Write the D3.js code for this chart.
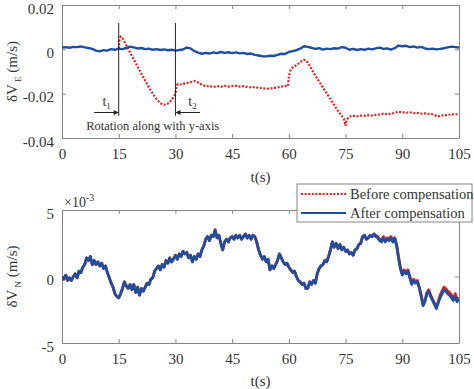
<!DOCTYPE html>
<html lang="en">
<head>
<meta charset="UTF-8" />
<title>velocity error</title>
<script src="https://cdn.jsdelivr.net/npm/d3@7"></script>
<style>
  body { margin: 0; background: #fff; }
  svg text { font-family: 'Liberation Serif', 'Times New Roman', serif; fill: #333; }
</style>
</head>
<body>
<div id="chart"></div>
<script>
// ---- data ----
const xTicks = [0, 15, 30, 45, 60, 75, 90, 105]
const topYTicks = [-0.04, -0.02, 0, 0.02]
const bottomYTicks = [-5, 0, 5]
const seriesNames = ['Before compensation', 'After compensation']

// top panel, after compensation (m/s), one value per second from t = 0
const topAfter = [
  0.0008, 0.0010, 0.0007, 0.0011, 0.0010, 0.0013, 0.0009, 0.0006, 0.0002, -0.0006,
  -0.0009, -0.0004, -0.0006, 0.0001, -0.0002, 0.0003, 0.0001, 0.0006, 0.0012, 0.0009,
  0.0004, 0.0006, 0.0001, 0.0003, -0.0002, 0.0001, -0.0003, 0.0000, -0.0004, -0.0002,
  -0.0006, -0.0003, -0.0001, 0.0008, 0.0004, -0.0008, -0.0015, -0.0020, -0.0016, -0.0019,
  -0.0014, -0.0017, -0.0012, -0.0016, -0.0013, -0.0017, -0.0014, -0.0018, -0.0016, -0.0021,
  -0.0019, -0.0025, -0.0028, -0.0031, -0.0032, -0.0029, -0.0030, -0.0025, -0.0020, -0.0021,
  -0.0012, -0.0008, -0.0004, 0.0003, 0.0014, 0.0011, 0.0007, 0.0002, 0.0005, -0.0001,
  0.0003, 0.0001, 0.0005, 0.0003, 0.0010, 0.0007, -0.0002, 0.0002, -0.0003, 0.0001,
  -0.0002, 0.0003, 0.0000, 0.0004, 0.0008, 0.0002, 0.0004, -0.0001, 0.0005, 0.0017,
  0.0014, 0.0016, 0.0010, 0.0013, 0.0008, 0.0011, 0.0004, 0.0001, 0.0003, 0.0000,
  0.0002, 0.0005, 0.0009, 0.0012, 0.0010, 0.0008
]
const topAfterStep = 1

// top panel, before compensation: [t (s), value (m/s)]
const topBefore = [
  [15.0, 0.0003], [15.2, 0.0040], [15.5, 0.0057], [16, 0.0050], [16.5, 0.0035], [17, 0.0018],
  [17.5, 0.0002], [18, -0.0015], [18.5, -0.0030], [19, -0.0046], [19.5, -0.0062], [20, -0.0078],
  [20.5, -0.0094], [21, -0.0110], [21.5, -0.0126], [22, -0.0142], [22.5, -0.0158], [23, -0.0172],
  [23.5, -0.0186], [24, -0.0200], [24.5, -0.0212], [25, -0.0224], [25.5, -0.0234], [26, -0.0242],
  [26.5, -0.0248], [27, -0.0250], [27.5, -0.0249], [28, -0.0245], [28.5, -0.0238], [29, -0.0228],
  [29.5, -0.0215], [30, -0.0200], [30.3, -0.0165], [30.6, -0.0158], [31, -0.0160], [32, -0.0156],
  [33, -0.0152], [34, -0.0148], [35, -0.0143], [36, -0.0150], [37, -0.0160], [38, -0.0167],
  [39, -0.0165], [40, -0.0170], [41, -0.0166], [42, -0.0169], [43, -0.0165], [44, -0.0168],
  [45, -0.0166], [46, -0.0164], [47, -0.0168], [48, -0.0166], [49, -0.0170], [50, -0.0172],
  [51, -0.0170], [52, -0.0174], [53, -0.0176], [54, -0.0178], [55, -0.0177], [56, -0.0174],
  [57, -0.0172], [58, -0.0168], [59, -0.0166], [59.8, -0.0165], [60, -0.0120], [60.5, -0.0092],
  [61, -0.0082], [62, -0.0072], [63, -0.0058], [64, -0.0047], [64.5, -0.0050], [65, -0.0060],
  [65.5, -0.0074], [66, -0.0090], [67, -0.0118], [68, -0.0145], [69, -0.0172], [70, -0.0198],
  [71, -0.0225], [72, -0.0252], [73, -0.0278], [74, -0.0300], [74.6, -0.0315], [75, -0.0345],
  [75.3, -0.0318], [76, -0.0303], [77, -0.0300], [78, -0.0302], [79, -0.0299], [80, -0.0300],
  [81, -0.0297], [82, -0.0299], [83, -0.0296], [84, -0.0294], [85, -0.0290], [86, -0.0293],
  [87, -0.0291], [88, -0.0286], [89, -0.0282], [90, -0.0284], [91, -0.0286], [92, -0.0284],
  [93, -0.0288], [94, -0.0287], [95, -0.0290], [96, -0.0289], [97, -0.0292], [98, -0.0293],
  [99, -0.0300], [100, -0.0302], [101, -0.0296], [102, -0.0298], [103, -0.0292], [104, -0.0294],
  [105, -0.0292]
]

// bottom panel, after compensation (x 1e-3 m/s), every 0.5 s from t = 0
const bottomAfter = [
  0.0, -0.2, 0.1, -0.3, -0.1, -0.3, 0.0, 0.2, -0.1, 0.4,
  0.3, 0.7, 0.9, 1.4, 1.2, 1.5, 0.9, 1.2, 0.9, 1.1,
  0.8, 1.0, 0.6, 0.8, 0.3, -0.1, -0.5, -0.8, -1.3, -1.5,
  -1.6, -1.3, -0.9, -0.4, -0.7, -0.9, -0.6, -1.0, -0.6, -1.2,
  -0.8, -1.4, -0.9, -1.1, -0.8, -0.5, -0.6, -0.2, -0.1, 0.4,
  0.6, 0.8, 0.5, 0.9, 0.7, 1.2, 1.0, 1.4, 1.1, 1.3,
  1.6, 1.3, 1.7, 1.5, 1.9, 1.7, 1.8, 1.4, 1.6, 1.1,
  1.5, 1.3, 1.7, 1.5, 2.0, 2.3, 2.8, 3.0, 2.7, 3.1,
  3.0, 3.5, 2.9, 3.1, 2.5, 2.0, 2.6, 2.8, 2.6, 2.9,
  3.0, 2.8, 3.1, 2.9, 3.1, 2.8, 3.0, 3.2, 2.9, 3.1,
  2.8, 3.1, 3.0, 2.6, 2.0, 1.6, 1.3, 1.5, 1.1, 1.3,
  0.5, 0.8, 0.6, 0.9, 1.2, 1.7, 1.4, 1.1, 0.9, 1.0,
  0.7, 0.5, 0.3, 0.4, 0.0, -0.3, -0.4, -0.6, -0.5, -0.9,
  -0.9, -0.4, -0.6, -0.3, -0.5, 0.2, 0.6, 0.8, 0.9, 1.2,
  1.1, 1.5, 2.0, 2.6, 2.2, 2.5, 2.1, 2.4, 2.0, 2.2,
  1.9, 2.0, 1.7, 1.8, 1.6, 2.0, 2.1, 2.4, 2.5, 3.0,
  3.1, 2.8, 2.9, 3.1, 3.0, 3.2, 3.0, 2.9, 2.7, 2.6,
  2.9, 2.6, 2.8, 2.7, 2.9, 2.6, 2.9, 2.3, 1.4, 0.6,
  0.1, 0.4, 0.2, 0.4, -0.1, -0.6, -0.3, -0.5, -0.4, -0.9,
  -1.5, -2.2, -1.9, -1.3, -1.1, -1.5, -1.8, -2.1, -2.4, -2.0,
  -1.6, -1.3, -1.0, -1.1, -1.3, -1.4, -1.6, -1.8, -1.5, -1.9,
  -1.7
]
// bottom panel, before compensation (x 1e-3 m/s), every 0.5 s from t = 0
const bottomBefore = [
  0.0, -0.2, 0.1, -0.3, -0.1, -0.3, 0.0, 0.2, -0.1, 0.4,
  0.3, 0.7, 0.9, 1.4, 1.2, 1.5, 0.9, 1.2, 0.9, 1.1,
  0.8, 1.0, 0.6, 0.8, 0.3, -0.1, -0.5, -0.8, -1.3, -1.5,
  -1.6, -1.3, -0.9, -0.4, -0.7, -0.9, -0.6, -1.0, -0.6, -1.2,
  -0.8, -1.4, -0.9, -1.1, -0.8, -0.5, -0.6, -0.2, -0.1, 0.4,
  0.6, 0.8, 0.5, 0.9, 0.7, 1.2, 1.0, 1.4, 1.1, 1.3,
  1.6, 1.3, 1.7, 1.5, 1.9, 1.7, 1.8, 1.4, 1.6, 1.1,
  1.5, 1.3, 1.7, 1.5, 2.0, 2.3, 2.8, 3.0, 2.7, 3.1,
  3.0, 3.5, 2.9, 3.1, 2.5, 2.0, 2.6, 2.8, 2.6, 2.9,
  3.0, 2.8, 3.1, 2.9, 3.1, 2.8, 3.0, 3.2, 2.9, 3.1,
  2.8, 3.1, 3.0, 2.6, 2.0, 1.6, 1.3, 1.5, 1.1, 1.3,
  0.5, 0.8, 0.6, 0.9, 1.2, 1.7, 1.4, 1.1, 0.9, 1.0,
  0.7, 0.5, 0.3, 0.4, 0.0, -0.3, -0.4, -0.6, -0.5, -0.9,
  -0.9, -0.4, -0.6, -0.3, -0.5, 0.2, 0.6, 0.8, 0.9, 1.2,
  1.1, 1.5, 2.0, 2.6, 2.2, 2.5, 2.1, 2.4, 2.0, 2.2,
  1.9, 2.0, 1.7, 1.8, 1.6, 2.0, 2.1, 2.4, 2.5, 3.0,
  3.1, 2.8, 2.9, 3.1, 3.0, 3.2, 3.1, 3.0, 2.8, 2.7,
  3.0, 2.7, 2.9, 2.8, 3.0, 2.7, 2.9, 2.4, 1.5, 0.7,
  0.2, 0.5, 0.3, 0.5, 0.0, -0.5, -0.2, -0.4, -0.3, -0.8,
  -1.4, -2.1, -1.8, -1.2, -1.0, -1.4, -1.7, -2.0, -2.3, -1.9,
  -1.4, -1.1, -0.8, -0.9, -1.1, -1.2, -1.4, -1.6, -1.3, -1.7,
  -1.6
]
const bottomStep = 0.5

// annotation in the top panel (data units)
const markerTimes = [15, 30]
const markerRange = [-0.0300, 0.0119]
const arrows = [
  { label: '1', from: 8.5, to: 15, y: -0.0285, labelX: 11.8 },
  { label: '2', from: 36.5, to: 30, y: -0.0285, labelX: 34.5 },
]
const noteText = 'Rotation along with y-axis'
const notePos = [24, -0.0363]

// ---- drawing ----
const W = 474, H = 389
const left = 62, right = 459
const topPanel = { y0: 5, y1: 138 }
const botPanel = { y0: 210, y1: 343 }
const red = '#e3221e', blue = '#1f4e9e', frame = '#858585'
const fontSize = 15

const svg = d3.select('#chart').append('svg').attr('width', W).attr('height', H)

const x = d3.scaleLinear().domain([0, 105]).range([left, right])
const yTop = d3.scaleLinear().domain([-0.04, 0.02]).range([topPanel.y1, topPanel.y0])
const yBot = d3.scaleLinear().domain([-5, 5]).range([botPanel.y1, botPanel.y0])

const drawFrame = (y, panel, yTicks, fmt) => {
  const g = svg.append('g')
  g.append('g').attr('transform', `translate(0,${panel.y1})`)
    .call(d3.axisBottom(x).tickValues(xTicks).tickSize(-4).tickSizeOuter(0).tickPadding(10))
  g.append('g').attr('transform', `translate(0,${panel.y0})`)
    .call(d3.axisTop(x).tickValues(xTicks).tickSize(-4).tickSizeOuter(0).tickFormat(''))
  const yl = g.append('g').attr('transform', `translate(${left},0)`)
    .call(d3.axisLeft(y).tickValues(yTicks).tickSize(-4).tickSizeOuter(0).tickPadding(8).tickFormat(fmt))
  yl.selectAll('.tick text').attr('dy', '0.55em')
  g.append('g').attr('transform', `translate(${right},0)`)
    .call(d3.axisRight(y).tickValues(yTicks).tickSize(-4).tickSizeOuter(0).tickFormat(''))
  g.selectAll('.domain, .tick line').attr('stroke', frame).attr('stroke-width', 1)
  g.selectAll('.tick text').style('font-size', fontSize + 'px').attr('fill', '#333')
    .style('font-family', "'Liberation Serif', 'Times New Roman', serif")
  return g
}

drawFrame(yTop, topPanel, topYTicks, (d) => (d === 0 ? '0' : d3.format('.2f')(d).replace('−', '-')))
drawFrame(yBot, botPanel, bottomYTicks, (d) => String(d))

// axis titles
const xTitle = (yPos) => svg.append('text').attr('x', x(52.5)).attr('y', yPos)
  .attr('text-anchor', 'middle').style('font-size', fontSize + 'px').text('t(s)')
xTitle(topPanel.y1 + 44)
xTitle(botPanel.y1 + 43)

const yTitle = (panel, sub) => {
  const cy = (panel.y0 + panel.y1) / 2
  const t = svg.append('text').attr('transform', `translate(17,${cy}) rotate(-90)`)
    .attr('text-anchor', 'middle').style('font-size', fontSize + 'px')
  t.append('tspan').text('δV')
  t.append('tspan').attr('dy', 4).style('font-size', '9px').text(' ' + sub)
  t.append('tspan').attr('dy', -4).text(' (m/s)')
}
yTitle(topPanel, 'E')
yTitle(botPanel, 'N')

// exponent label
const ex = svg.append('text').attr('x', left + 2).attr('y', botPanel.y0 - 3).style('font-size', '14px')
ex.append('tspan').text('×10')
ex.append('tspan').attr('dy', -6).style('font-size', '10px').text('-3')

// clip areas
const clip = (id, panel) => svg.append('clipPath').attr('id', id).append('rect')
  .attr('x', left).attr('y', panel.y0).attr('width', right - left).attr('height', panel.y1 - panel.y0)
clip('clipTop', topPanel)
clip('clipBot', botPanel)

// top panel lines
const lineTop = d3.line().x((d) => x(d[0])).y((d) => yTop(d[1]))
const topAfterPts = topAfter.map((v, i) => [i * topAfterStep, v])
svg.append('path').attr('clip-path', 'url(#clipTop)').attr('d', lineTop(topBefore))
  .attr('fill', 'none').attr('stroke', red).attr('stroke-width', 2.2).attr('stroke-dasharray', '2,1.6')
svg.append('path').attr('clip-path', 'url(#clipTop)').attr('d', lineTop(topAfterPts))
  .attr('fill', 'none').attr('stroke', blue).attr('stroke-width', 2.4).attr('stroke-linejoin', 'round')

// annotation
markerTimes.forEach((t) => {
  svg.append('line').attr('x1', x(t)).attr('x2', x(t))
    .attr('y1', yTop(markerRange[1])).attr('y2', yTop(markerRange[0]))
    .attr('stroke', '#222').attr('stroke-width', 1)
})
svg.append('defs').append('marker').attr('id', 'arrowHead').attr('viewBox', '0 0 10 10')
  .attr('refX', 10).attr('refY', 5).attr('markerWidth', 7).attr('markerHeight', 5)
  .attr('markerUnits', 'userSpaceOnUse').attr('orient', 'auto')
  .append('path').attr('d', 'M0,0 L10,5 L0,10 z').attr('fill', '#222')
arrows.forEach((a) => {
  svg.append('line').attr('x1', x(a.from)).attr('x2', x(a.to))
    .attr('y1', yTop(a.y)).attr('y2', yTop(a.y))
    .attr('stroke', '#222').attr('stroke-width', 1).attr('marker-end', 'url(#arrowHead)')
  const lt = svg.append('text').attr('x', x(a.labelX)).attr('y', yTop(a.y) - 7)
    .attr('text-anchor', 'middle').style('font-size', '14px')
  lt.append('tspan').text('t')
  lt.append('tspan').attr('dy', 3).style('font-size', '9px').text(a.label)
})
svg.append('text').attr('x', x(notePos[0])).attr('y', yTop(notePos[1]))
  .attr('text-anchor', 'middle').style('font-size', '12.5px').attr('fill', '#222').text(noteText)

// bottom panel lines
const lineBot = d3.line().x((d, i) => x(i * bottomStep)).y((d) => yBot(d))
svg.append('path').attr('clip-path', 'url(#clipBot)').attr('d', lineBot(bottomBefore))
  .attr('fill', 'none').attr('stroke', red).attr('stroke-width', 2.8).attr('stroke-linejoin', 'round')
svg.append('path').attr('clip-path', 'url(#clipBot)').attr('d', lineBot(bottomAfter))
  .attr('fill', 'none').attr('stroke', blue).attr('stroke-width', 2.8).attr('stroke-linejoin', 'round')

// legend
const lg = svg.append('g').attr('transform', 'translate(297,184)')
lg.append('rect').attr('width', 175).attr('height', 38).attr('fill', '#fff').attr('stroke', frame)
seriesNames.forEach((name, i) => {
  const yy = 10 + i * 19
  lg.append('line').attr('x1', 4).attr('x2', 49).attr('y1', yy).attr('y2', yy)
    .attr('stroke', i === 0 ? red : blue).attr('stroke-width', 2)
    .attr('stroke-dasharray', i === 0 ? '2,1.6' : null)
  lg.append('text').attr('x', 53).attr('y', yy + 5).style('font-size', '14.5px').text(name)
})
</script>
</body>
</html>
